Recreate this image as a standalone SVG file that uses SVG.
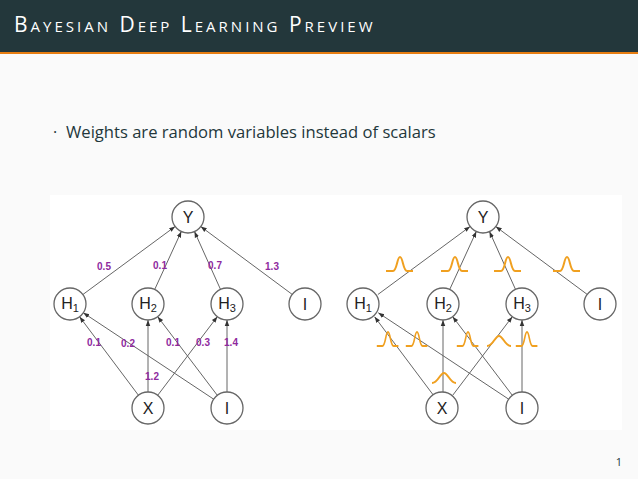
<svg xmlns="http://www.w3.org/2000/svg" xmlns:xlink="http://www.w3.org/1999/xlink" width="638" height="479" viewBox="0 0 638 479">
<style>
.n circle{fill:#fff;stroke:#666;stroke-width:1.3}
.n text{font-family:"Liberation Sans",Arial,sans-serif;font-size:16px;fill:#222;text-anchor:middle}
.sub{font-size:11px}
.e line{stroke:#666;stroke-width:1}
.w{font-family:"Liberation Sans",Arial,sans-serif;font-size:10px;font-weight:bold;fill:#8e2a9e;text-anchor:middle}
.b{fill:none;stroke:#f0a020;stroke-width:2}
</style>
<defs>
<marker id="a" viewBox="0 0 8 8" refX="8" refY="4" markerWidth="6" markerHeight="6" orient="auto"><path d="M0,1 L8,4 L0,7 z" fill="#333"/></marker>
<path id="bump" d="M-14,5 L-7,5 C-3,5 -3,-9 0,-9 C3,-9 3,5 7,5 L13,5"/>
<path id="wide" d="M-12,4 C-6,4 -4,-6 0,-6 C4,-6 6,4 12,4"/>
</defs>
<rect width="638" height="479" fill="#fafafa"/>
<rect width="638" height="52" fill="#23373b"/>
<rect y="52" width="638" height="2" fill="#e77d11"/>
<text x="14" y="32" font-family="'Open Sans','DejaVu Sans',sans-serif" font-size="21" letter-spacing="3" fill="#fff" style="font-variant:small-caps">Bayesian Deep Learning Preview</text>
<text x="53" y="138" font-family="'Open Sans',sans-serif" font-size="16" fill="#23373b">·</text>
<text x="66" y="138" font-family="'Open Sans',sans-serif" font-size="16.6" fill="#23373b">Weights are random variables instead of scalars</text>
<text x="622" y="466" font-family="'Open Sans',sans-serif" font-size="11" fill="#23373b" text-anchor="end">1</text>
<rect x="50" y="195" width="572" height="235" fill="#fff"/>
<g id="left">
<g class="e">
<line x1="82.9" y1="294.5" x2="175.1" y2="226.5" marker-end="url(#a)"/>
<line x1="154.7" y1="289.5" x2="181.3" y2="231.5" marker-end="url(#a)"/>
<line x1="220.5" y1="289.4" x2="194.5" y2="231.6" marker-end="url(#a)"/>
<line x1="292.2" y1="294.4" x2="200.8" y2="226.6" marker-end="url(#a)"/>
<line x1="138.4" y1="395.2" x2="79.6" y2="316.8" marker-end="url(#a)"/>
<line x1="148" y1="392" x2="148" y2="320" marker-end="url(#a)"/>
<line x1="157.7" y1="395.3" x2="217.3" y2="316.7" marker-end="url(#a)"/>
<line x1="213.7" y1="399.2" x2="83.3" y2="312.8" marker-end="url(#a)"/>
<line x1="217.3" y1="395.3" x2="157.7" y2="316.7" marker-end="url(#a)"/>
<line x1="227" y1="392" x2="227" y2="320" marker-end="url(#a)"/>
</g>
<g id="lY" class="n"><circle cx="188" cy="217" r="16"/><text x="188" y="223">Y</text></g>
<g id="lH1" class="n"><circle cx="70" cy="304" r="16"/><text x="70" y="309">H<tspan class="sub" dy="3">1</tspan></text></g>
<g id="lH2" class="n"><circle cx="148" cy="304" r="16"/><text x="148" y="309">H<tspan class="sub" dy="3">2</tspan></text></g>
<g id="lH3" class="n"><circle cx="227" cy="304" r="16"/><text x="227" y="309">H<tspan class="sub" dy="3">3</tspan></text></g>
<g id="lI" class="n"><circle cx="305" cy="304" r="16"/><text x="305" y="310">I</text></g>
<g id="lX" class="n"><circle cx="148" cy="408" r="16"/><text x="148" y="414">X</text></g>
<g id="lI2" class="n"><circle cx="227" cy="408" r="16"/><text x="227" y="414">I</text></g>
<g id="weights">
<text class="w" x="104" y="270">0.5</text><text class="w" x="160" y="269">0.1</text><text class="w" x="215" y="269">0.7</text><text class="w" x="272" y="270">1.3</text>
<text class="w" x="94" y="346">0.1</text><text class="w" x="128" y="347">0.2</text><text class="w" x="173" y="346">0.1</text><text class="w" x="203" y="346">0.3</text><text class="w" x="231" y="346">1.4</text><text class="w" x="152" y="380">1.2</text>
</g>
</g>
<g id="right" transform="translate(295,0)">
<g class="e">
<line x1="82.9" y1="294.5" x2="175.1" y2="226.5" marker-end="url(#a)"/>
<line x1="154.7" y1="289.5" x2="181.3" y2="231.5" marker-end="url(#a)"/>
<line x1="220.5" y1="289.4" x2="194.5" y2="231.6" marker-end="url(#a)"/>
<line x1="292.2" y1="294.4" x2="200.8" y2="226.6" marker-end="url(#a)"/>
<line x1="138.4" y1="395.2" x2="79.6" y2="316.8" marker-end="url(#a)"/>
<line x1="148" y1="392" x2="148" y2="320" marker-end="url(#a)"/>
<line x1="157.7" y1="395.3" x2="217.3" y2="316.7" marker-end="url(#a)"/>
<line x1="213.7" y1="399.2" x2="83.3" y2="312.8" marker-end="url(#a)"/>
<line x1="217.3" y1="395.3" x2="157.7" y2="316.7" marker-end="url(#a)"/>
<line x1="227" y1="392" x2="227" y2="320" marker-end="url(#a)"/>
</g>
<g id="rY" class="n"><circle cx="188" cy="217" r="16"/><text x="188" y="223">Y</text></g>
<g id="rH1" class="n"><circle cx="68" cy="304" r="16"/><text x="68" y="309">H<tspan class="sub" dy="3">1</tspan></text></g>
<g id="rH2" class="n"><circle cx="148" cy="304" r="16"/><text x="148" y="309">H<tspan class="sub" dy="3">2</tspan></text></g>
<g id="rH3" class="n"><circle cx="227" cy="304" r="16"/><text x="227" y="309">H<tspan class="sub" dy="3">3</tspan></text></g>
<g id="rI" class="n"><circle cx="305" cy="304" r="16"/><text x="305" y="310">I</text></g>
<g id="rX" class="n"><circle cx="147" cy="408" r="16"/><text x="147" y="414">X</text></g>
<g id="rI2" class="n"><circle cx="227" cy="408" r="16"/><text x="227" y="414">I</text></g>
<g id="dists" class="b">
<use xlink:href="#bump" transform="translate(105,266)"/>
<use xlink:href="#bump" transform="translate(160,266)"/>
<use xlink:href="#bump" transform="translate(213,266)"/>
<use xlink:href="#bump" transform="translate(272,266)"/>
<use xlink:href="#bump" transform="translate(93,341) scale(0.8,1)"/>
<use xlink:href="#bump" transform="translate(122,341) scale(0.8,1)"/>
<use xlink:href="#bump" transform="translate(173,341) scale(0.8,1)"/>
<use xlink:href="#wide" transform="translate(204,342)"/>
<use xlink:href="#bump" transform="translate(232,341) scale(0.8,1)"/>
<use xlink:href="#wide" transform="translate(149,379)"/>
</g>
</g>
</svg>
